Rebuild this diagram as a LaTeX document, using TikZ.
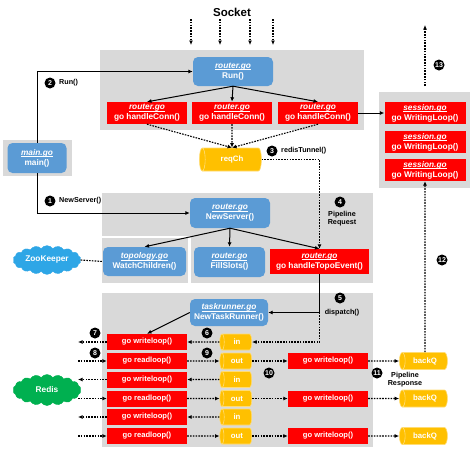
\documentclass[tikz,border=0pt]{standalone}
\usepackage{fontspec}
\setmainfont{Liberation Sans}
\usetikzlibrary{arrows.meta,shapes.geometric,shapes.symbols,calc}
\definecolor{bgG}{HTML}{D9D9D9}
\definecolor{blueB}{HTML}{5B9BD5}
\definecolor{redB}{HTML}{FF0000}
\definecolor{yelB}{HTML}{FFC000}
\definecolor{grnB}{HTML}{00B050}
\definecolor{zkB}{HTML}{2EA6E6}
\newcommand\fnm[1]{\setbox0\hbox{\itshape #1}\rlap{\vrule width\wd0 height -1.1pt depth 1.7pt}\box0}
\begin{document}
\begin{tikzpicture}[x=1pt,y=-1pt,
 bg/.style={fill=bgG,draw=none},
 bluebox/.style={rectangle,rounded corners=5pt,fill=blueB,text=white,align=center,inner sep=0pt,font=\bfseries\fontsize{8.3}{10.2}\selectfont},
 redbox/.style={rectangle,fill=redB,text=white,align=center,inner sep=0pt,font=\bfseries\fontsize{8.3}{10.2}\selectfont},
 loopbox/.style={redbox,minimum width=80pt,minimum height=16pt,font=\bfseries\fontsize{7.6}{9}\selectfont},
 cyl/.style={cylinder,shape border rotate=180,aspect=0.8,cylinder uses custom fill,cylinder body fill=yelB,cylinder end fill=yelB,draw=yelB!55!white,line width=0.6pt,text=white,font=\bfseries\fontsize{7.8}{9}\selectfont,inner sep=0pt},
 num/.style={circle,fill=black,text=white,inner sep=0pt,minimum size=11pt,font=\bfseries\fontsize{7}{7}\selectfont},
 lbl/.style={font=\bfseries\fontsize{7.2}{8.2}\selectfont,inner sep=0pt,align=center},
 arr/.style={-{Latex[length=4.5pt,width=4pt]},line width=1pt},
 darr/.style={-{Latex[length=4.5pt,width=4pt]},dash pattern=on 1.6pt off 1.2pt,line width=1.1pt},
 dln/.style={dash pattern=on 1.6pt off 1.2pt,line width=1.1pt}
]
\useasboundingbox (0,0) rectangle (474,453);
% backgrounds
\fill[bg] (100,50) rectangle (364,130);
\fill[bg] (3,140) rectangle (72,176);
\fill[bg] (191,193) rectangle (373,283);
\fill[bg] (102,193) rectangle (191,236);
\fill[bg] (102,238) rectangle (188,283);
\fill[bg] (102,293) rectangle (373,447);
\fill[bg] (379,92) rectangle (470,188);

% Socket
\node[font=\bfseries\fontsize{11.5}{13}\selectfont] (sock) at (232,12) {Socket};
\foreach \x/\n in {191/a,220/b,250/c,273/d}{
  \coordinate (sk\n1) at (\x,19);
  \coordinate (sk\n2) at (\x,45);
  \draw[darr] (sk\n1) -- (sk\n2);
}

% router Run
\node[bluebox,minimum width=80pt,minimum height=29pt] (run) at (233,71.5) {\fnm{router.go}\\Run()};
\node[redbox,minimum width=80pt,minimum height=22pt] (hc1) at (147,113) {\fnm{router.go}\\go handleConn()};
\node[redbox,minimum width=80pt,minimum height=22pt] (hc2) at (232,113) {\fnm{router.go}\\go handleConn()};
\node[redbox,minimum width=80pt,minimum height=22pt] (hc3) at (318,113) {\fnm{router.go}\\go handleConn()};

% main
\node[bluebox,minimum width=59pt,minimum height=30pt] (main) at (37,158) {\fnm{main.go}\\main()};

% reqCh
\node[cyl,minimum height=62pt,minimum width=23pt] (req) at (232,159.5) {reqCh};

% sessions
\node[redbox,minimum width=81pt,minimum height=22pt] (se1) at (425,113) {\fnm{session.go}\\go WritingLoop()};
\node[redbox,minimum width=81pt,minimum height=22pt] (se2) at (425,142) {\fnm{session.go}\\go WritingLoop()};
\node[redbox,minimum width=81pt,minimum height=22pt] (se3) at (425,170) {\fnm{session.go}\\go WritingLoop()};

% NewServer
\node[bluebox,minimum width=80pt,minimum height=30pt] (ns) at (230,213) {\fnm{router.go}\\NewServer()};
\node[bluebox,minimum width=83pt,minimum height=29pt] (wc) at (144.5,261.5) {\fnm{topology.go}\\WatchChildren()};
\node[bluebox,minimum width=71pt,minimum height=30pt] (fs) at (229.5,262) {\fnm{router.go}\\FillSlots()};
\node[redbox,minimum width=99pt,minimum height=25pt] (te) at (319.5,261.5) {\fnm{router.go}\\go handleTopoEvent()};
\node[cloud,cloud puffs=18,cloud puff arc=110,aspect=2.6,fill=zkB,draw=zkB,minimum width=68pt,minimum height=26pt,inner sep=0pt,text=white,font=\bfseries\fontsize{8.3}{9}\selectfont] (zk) at (47,260) {ZooKeeper};

% TaskRunner
\node[bluebox,minimum width=78pt,minimum height=27pt] (ntr) at (229,312.5) {\fnm{taskrunner.go}\\NewTaskRunner()};
\foreach \i/\y in {1/342,3/379.5,5/417}{
  \node[loopbox] (L\i) at (147,\y) {go writeloop()};
  \node[cyl,minimum height=32pt,minimum width=16pt] (Q\i) at (237,\y) {in};
  \coordinate (X\i) at (78,\y);
}
\foreach \i/\y in {2/361,4/398.5,6/436}{
  \node[loopbox] (L\i) at (147,\y) {go readloop()};
  \node[cyl,minimum height=32pt,minimum width=16pt] (Q\i) at (237,\y) {out};
  \coordinate (X\i) at (78,\y);
  \node[loopbox] (R\i) at (328,\y) {go writeloop()};
  \node[cyl,minimum height=48pt,minimum width=17pt] (B\i) at (425,\y) {backQ};
}
\node[cloud,cloud puffs=18,cloud puff arc=110,aspect=2.2,fill=grnB,draw=grnB,minimum width=68pt,minimum height=31pt,inner sep=0pt,text=white,font=\bfseries\fontsize{8.3}{9}\selectfont] (rd) at (47,390) {Redis};

% connectors
\draw[arr] (main.north) |- (run.west);
\draw[arr] (main.south) |- (ns.west);
\draw[arr] (run.south) -- (hc1.north);
\draw[arr] (run.south) -- (hc2.north);
\draw[arr] (run.south) -- (hc3.north);
\draw[darr] (hc1.south) -- (req.north);
\draw[darr] (hc2.south) -- (req.north);
\draw[darr] (hc3.south) -- (req.north);
\draw[arr] (hc3.east) -- (se1.west);
\draw[darr] (req.east) -| (te.north);
\draw[arr] (ns.south) -- (wc.north);
\draw[arr] (ns.south) -- (fs.north);
\draw[arr] (ns.south) -- (te.north);
\draw[dln] (zk.east) -- (wc.west);
\coordinate (dsp) at (te.south |- ntr.east);
\draw[arr] (te.south) |- (ntr.east);
\draw[darr] (dsp) |- (Q1.east);
\draw[arr] (ntr.west) -- (L1.north);
\foreach \i in {1,3,5}{
  \draw[darr] (Q\i.west) -- (L\i.east);
  \draw[darr] (L\i.west) -- (X\i);
}
\foreach \i in {2,4,6}{
  \draw[darr] (L\i.east) -- (Q\i.west);
  \draw[darr] (X\i) -- (L\i.west);
  \draw[darr] (Q\i.east) -- (R\i.west);
  \draw[darr] (R\i.east) -- (B\i.west);
}
\draw[darr] (B2.north) -- (se3.south);
\coordinate (up1) at (425,86);
\coordinate (up2) at (425,25);
\draw[darr] (up1) -- (up2);

% numbers and labels
\node[num] (n1) at (50,201) {1};
\node[lbl,anchor=west] (t1) at (59,201) {NewServer()};
\node[num] (n2) at (50,83) {2};
\node[lbl,anchor=west] (t2) at (59,83) {Run()};
\node[num] (n3) at (272,151) {3};
\node[lbl,anchor=west] (t3) at (281,151) {redisTunnel()};
\node[num] (n4) at (340,202) {4};
\node[lbl] (t4) at (342,219) {Pipeline\\Request};
\node[num] (n5) at (340,298) {5};
\node[lbl] (t5) at (342,313) {dispatch()};
\node[num] (n6) at (207,333) {6};
\node[num] (n7) at (95,333) {7};
\node[num] (n8) at (95,353) {8};
\node[num] (n9) at (207,353) {9};
\node[num] (n10) at (269,373) {10};
\node[num] (n11) at (377,373) {11};
\node[lbl] (t11) at (405,380) {Pipeline\\Response};
\node[num] (n12) at (442,260) {12};
\node[num] (n13) at (439,65) {13};
\end{tikzpicture}
\end{document}
